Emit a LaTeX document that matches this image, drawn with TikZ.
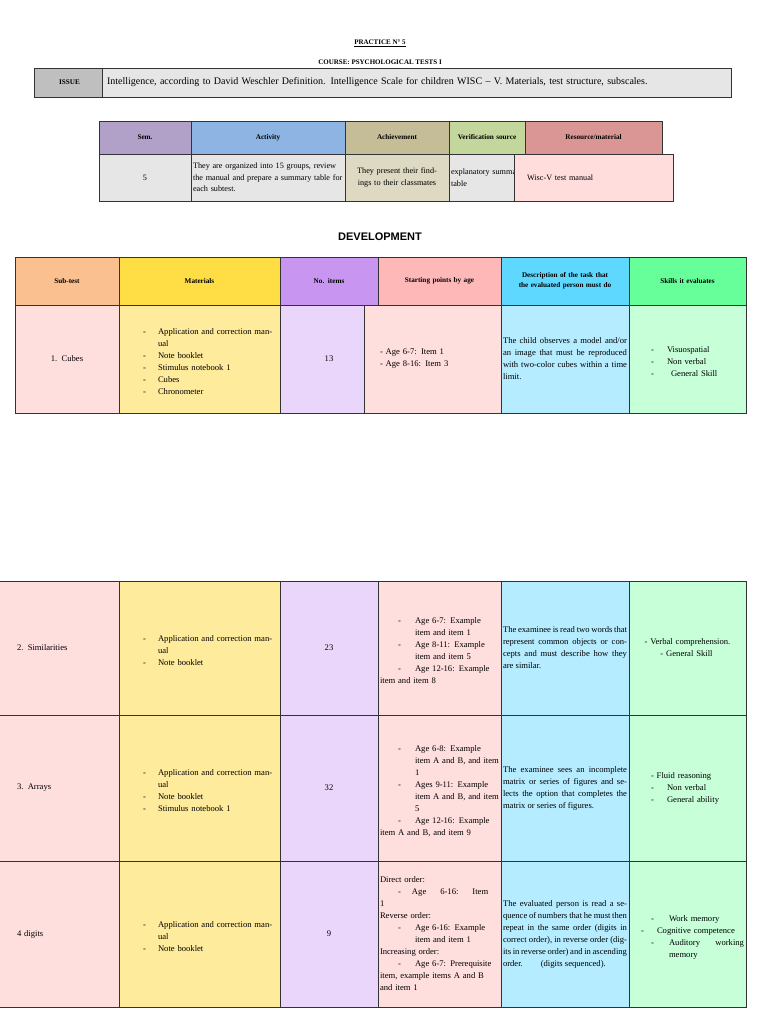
\documentclass[tikz,border=0pt]{standalone}
\usepackage{fontspec}
\setmainfont{Liberation Serif}
\newfontfamily\headfont{Liberation Sans}
\definecolor{ln}{HTML}{333333}
\newcommand\itm[3]{\par\noindent\hangindent=#2pt\hangafter=1\hbox to #2pt{\hspace{#1pt}-\hfil}#3}
\newcommand\cellx[8]{\definecolor{c#1}{HTML}{#6}\node[cellbox,fill=c#1,minimum width=#4pt,minimum height=#5pt,text width={#4pt-4pt},#7] (#1) at (#2+#4/2,#3+#5/2) {#8};}
\begin{document}
\begin{tikzpicture}[x=1pt,y=-1pt,
  cellbox/.style={draw=ln,line width=0.8pt,inner xsep=2pt,inner ysep=0pt,font=\fontsize{8.6}{12}\selectfont},
  hd/.style={align=center,font=\fontsize{7.2}{10}\selectfont\bfseries},
  sm/.style={font=\fontsize{8.2}{11.5}\selectfont}]
\useasboundingbox[fill=white] (0,0) rectangle (768,1024);
\node[font=\fontsize{7}{8}\selectfont\bfseries] (t1) at (380,43) {\underline{PRACTICE N° 5}};
\node[font=\fontsize{7}{8}\selectfont\bfseries] (t2) at (380,62) {COURSE: PSYCHOLOGICAL TESTS I};
\cellx{iss}{34}{68}{71}{29}{BFBFBF}{hd}{ISSUE}
\cellx{isst}{105}{68}{623}{29}{E6E6E6}{align=left,font=\fontsize{10}{12}\selectfont,inner xsep=5pt}{Intelligence, according to David Weschler Definition. Intelligence Scale for children WISC – V. Materials, test structure, subscales.}
% small table
\cellx{h1}{99}{121}{92}{33}{B1A0C7}{hd}{Sem.}
\cellx{h2}{191}{121}{154}{33}{8DB4E2}{hd}{Activity}
\cellx{h3}{345}{121}{104}{33}{C4BD97}{hd}{Achievement}
\cellx{h4}{449}{121}{76}{33}{C3D69B}{hd,inner xsep=0pt}{Verification source}
\cellx{h5}{525}{121}{137}{33}{DA9694}{hd}{Resource/material}
\cellx{b1}{99}{154}{92}{47}{E6E6E6}{align=center,sm}{5}
\cellx{b2}{191}{154}{154}{47}{E6E6E6}{align=left,sm,inner xsep=0pt}{They are organized into 15 groups, review the manual and prepare a summary table for each subtest.}
\cellx{b3}{345}{154}{104}{47}{DDD9C3}{align=center,sm,inner xsep=0pt}{They present their findings to their classmates}
\cellx{b4}{449}{154}{76}{47}{E6E6E6}{align=left,sm,inner xsep=0pt}{explanatory summary table}
\cellx{b5}{525}{154}{137}{47}{FFDDDD}{align=left,sm,inner xsep=13pt}{Wisc-V test manual}
\node[font=\headfont\fontsize{11}{12}\selectfont\bfseries] (dev) at (380,237) {DEVELOPMENT};
% main header
\cellx{m1}{15}{257}{104}{48}{FAC090}{hd}{Sub-test}
\cellx{m2}{119}{257}{161}{48}{FFDD44}{hd}{Materials}
\cellx{m3}{280}{257}{98}{48}{C896F0}{hd}{No. items}
\cellx{m4}{378}{257}{123}{48}{FFB8B8}{hd}{Starting points by age}
\cellx{m5}{501}{257}{128}{48}{5FD8FF}{hd,inner xsep=0pt}{Description of the task that the evaluated person must do}
\cellx{m6}{629}{257}{117}{48}{66FF99}{hd}{Skills it evaluates}
% row 1
\cellx{a1}{15}{305}{104}{108}{FFDEDE}{align=center}{1. Cubes}
\cellx{a2}{119}{305}{161}{108}{FFEB9C}{align=left}{\itm{22}{37}{Application and correction manual}\itm{22}{37}{Note booklet}\itm{22}{37}{Stimulus notebook 1}\itm{22}{37}{Cubes}\itm{22}{37}{Chronometer}}
\cellx{a3}{280}{305}{98}{108}{EAD6FA}{align=center}{13}
\cellx{a4}{378}{305}{123}{108}{FFDEDE}{align=left,inner xsep=16pt}{- Age 6-7: Item 1\\- Age 8-16: Item 3}
\cellx{a5}{501}{305}{128}{108}{B5ECFF}{align=justify,inner xsep=0pt}{The child observes a model and/or an image that must be reproduced with two-color cubes within a time limit.}
\cellx{a6}{629}{305}{117}{108}{C6FFD8}{align=left}{\itm{20}{36}{Visuospatial}\itm{20}{36}{Non verbal}\itm{20}{40}{General Skill}}
% row 2
\cellx{c1}{15}{581}{104}{134}{FFDEDE}{align=left,inner xsep=20pt}{2. Similarities}
\cellx{c2}{119}{581}{161}{134}{FFEB9C}{align=left}{\itm{22}{37}{Application and correction manual}\itm{22}{37}{Note booklet}}
\cellx{c3}{280}{581}{98}{134}{EAD6FA}{align=center}{23}
\cellx{c4}{378}{581}{123}{134}{FFDEDE}{align=left,inner xsep=0pt}{\itm{18}{35}{Age 6-7: Example item and item 1}\itm{18}{35}{Age 8-11: Example item and item 5}\itm{18}{35}{Age 12-16: Example item and item 8}}
\cellx{c5}{501}{581}{128}{134}{B5ECFF}{align=justify,inner xsep=0pt}{The examinee is read two words that represent common objects or concepts and must describe how they are similar.}
\cellx{c6}{629}{581}{117}{134}{C6FFD8}{align=center,inner xsep=0pt}{- Verbal comprehension.\\\hspace*{-2pt}- General Skill}
% row 3
\cellx{d1}{15}{715}{104}{146}{FFDEDE}{align=left,inner xsep=20pt}{3. Arrays}
\cellx{d2}{119}{715}{161}{146}{FFEB9C}{align=left}{\itm{22}{37}{Application and correction manual}\itm{22}{37}{Note booklet}\itm{22}{37}{Stimulus notebook 1}}
\cellx{d3}{280}{715}{98}{146}{EAD6FA}{align=center}{32}
\cellx{d4}{378}{715}{123}{146}{FFDEDE}{align=left,inner xsep=0pt}{\itm{18}{35}{Age 6-8: Example item A and B, and item 1}\itm{18}{35}{Ages 9-11: Example item A and B, and item 5}\itm{18}{35}{Age 12-16: Example item A and B, and item 9}}
\cellx{d5}{501}{715}{128}{146}{B5ECFF}{align=justify,inner xsep=0pt}{The examinee sees an incomplete matrix or series of figures and selects the option that completes the matrix or series of figures.}
\cellx{d6}{629}{715}{117}{146}{C6FFD8}{align=left}{\hspace*{20pt}- Fluid reasoning\itm{20}{36}{Non verbal}\itm{20}{36}{General ability}}
% row 4
\cellx{e1}{15}{861}{104}{146}{FFDEDE}{align=left,inner xsep=20pt}{4 digits}
\cellx{e2}{119}{861}{161}{146}{FFEB9C}{align=left}{\itm{22}{37}{Application and correction manual}\itm{22}{37}{Note booklet}}
\cellx{e3}{280}{861}{98}{146}{EAD6FA}{align=center}{9}
\cellx{e4}{378}{861}{123}{146}{FFDEDE}{align=left,inner xsep=0pt}{Direct order:\par\noindent\hbox to 32pt{\hspace{18pt}-\hfil}Age\hspace{14pt}6-16:\hspace{14pt}Item\hspace{14pt}1\par\noindent Reverse order:\itm{18}{35}{Age 6-16: Example item and item 1}\par\noindent Increasing order:\itm{18}{35}{Age 6-7: Prerequisite item, example items A and B and item 1}}
\cellx{e5}{501}{861}{128}{146}{B5ECFF}{align=justify,inner xsep=0pt}{The evaluated person is read a sequence of numbers that he must then repeat in the same order (digits in correct order), in reverse order (digits in reverse order) and in ascending order.\hspace{18pt}(digits sequenced).}
\cellx{e6}{629}{861}{117}{146}{C6FFD8}{align=left,inner xsep=0pt}{\itm{20}{38}{Work memory}\itm{10}{26}{Cognitive competence}\par\noindent\hangindent=38pt\hangafter=1\hbox to 38pt{\hspace{20pt}-\hfil}Auditory\hfill working\par\noindent\hspace*{38pt}memory}
\end{tikzpicture}
\end{document}
